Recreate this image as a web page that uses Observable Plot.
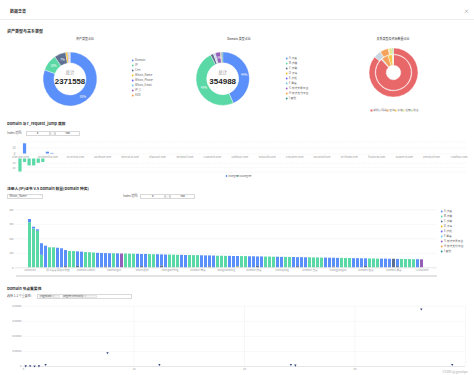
<!DOCTYPE html>
<html><head><meta charset="utf-8">
<script src="https://cdn.jsdelivr.net/npm/d3@7"></script>
<script src="https://cdn.jsdelivr.net/npm/@observablehq/plot@0.6"></script>
<style>
html,body{margin:0;padding:0;background:#fff;}
body{width:474px;height:375px;position:relative;overflow:hidden;font-family:"Noto Sans CJK SC","Noto Sans",sans-serif;color:#333;}
svg{overflow:visible;}
</style></head><body>
<script>
// ---------------- data ----------------
const assetTypes = ["Domain","IP","Cert","Whois_Name","Whois_Phone","Whois_Email","IP_C","ASN"];
const assetCounts = [1908650,236810,165120,28410,12830,10240,6120,3378];

const domainTypes = ["A 涉黄","B 涉赌","C 诈骗","D 涉毒","E 涉枪","F 黑客","G 非法交易平台","H 非法支付平台","I 其他"];
const domainCounts = [154420,173940,6390,1060,1420,1780,11360,1780,2838];
const palette = ["#5B8FF9","#5AD8A6","#5D7092","#F6BD16","#6F5EF9","#6DC8EC","#945FB9","#FF9845","#1E9493"];

const relGroups = ["解析","网段","证书","子域","注册","别名"];
const relInner = [1652310,18340,112560,74980,11240,7520];
const relOuter = [1614200,93870,103250,9410,37520,18740];
const relColors = ["#e8686a","#c9d5e0","#f5a35c","#f6c64f","#dfe38a","#b5dfa2"];

const jumpTickLabels = ["2f8e1a9c.com","5b7d0e3f4a.com","9c1e7b2d.com","a83f5c0e.com","d4e91b7a.com","6f0a2c8e.com","8e3b9d1f.com","c7a05e2b.com","1d9f6a3c.com","e2b8c4f0.com","47a1d9e3.com","b5c2e80f.com","0e7f3a9b.com","f91d2c6a.com","3c8a0e7d.com","a6e4b19f.com","72d0f5c8.com"];
const inDegree = [
0,17,0,0,0,0,3,1,0,0,0,0,0,0,
0,0,0,0,0,0,0,0,0,0,0,0,0,0,
0,0,0,0,0,0,0,0,0,0,0,0,0,0,
0,0,0,0,0,0,0,0,0,0,0,0,0,0,
0,0,0,0,0,0,0,0,0,0,0,0,0,0,
0,0,0,0,0,0,0,0,0,0,0,0,0,0,
0,0,0,0,0,0,0,0,0,0,0,0,0,0];
const outDegree = [
30,8,16,16,10,8,0,0,0,0,0,0,0,0,
0,0,0,0,0,0,0,0,0,0,0,0,0,0,
0,0,0,0,0,0,0,0,0,0,0,0,0,0,
0,0,0,0,0,0,0,0,0,0,0,0,0,0,
0,0,0,0,0,0,0,0,0,0,0,0,0,0,
0,0,0,0,0,0,0,0,0,0,0,0,0,0,
0,0,0,0,0,0,0,0,0,0,0,0,0,0];

const whoisTickLabels = ["Unknown","浙江某某网络工作室","Domain Admin","xiaohonglin","Whois 保护","zhangsanfeng","Domain 李某","wangxiaoming","Domain 陈某","liuzhiqiang","Domain 王某","huangjianguo","Domain 赵某","Domain 周某","Li Shuiwen"];
const whoisTotals = [
333,280,262,166,149,138,138,135,131,119,
112,112,110,108,105,104,102,100,99,98,
97,97,96,95,95,94,94,93,92,92,
91,90,90,89,88,88,87,86,86,85,
85,84,84,83,82,82,81,80,80,79,
79,78,78,77,77,76,76,75,75,74,
74,73,73,72,72,71,71,70,70,69,
69,68,68,67,67,66,66,65,65,64,
64,63,63,62,62,61,61,60,60,60,
59,59,58,58,57,57,56,56,55];
const whoisMain = ("BBBBABBAAA"+"BBAABBBAAA"+"ABAGBBBAAA"+"BBAAABBBAA"+"BBBAAAABBB"+
                   "AAABBAAAAB"+"BBAABBAAAA"+"BBBBAAAABB"+"BAAAABBBAA"+"ACABBBBAG");
const whoisExtra = [[0,"A",22],[1,"A",12],[2,"A",10],[3,"A",80],[9,"C",8],[12,"C",10],[19,"C",6],
  [28,"C",8],[33,"C",12],[45,"C",6],[52,"D",4],[57,"C",10],[67,"C",8],[76,"C",6],[84,"C",9],[92,"C",8]];
const stackOrder = ["B","C","D","G","A","E","F","H","I"];

const scatterX = [0.2,0.6,1.0,1.4,2.0,7.6,12.3,24.2,24.6,36.0,38.8];
const scatterY = [0.000003,0.000004,0.000002,0.000003,0.000012,0.00009,0.000012,0.000012,0.000008,0.00038,0.000012];

// ---------------- helpers ----------------
const FONT = '"Noto Sans CJK SC","Noto Sans",sans-serif';
const root = document.body;
function el(css, text){ const e=document.createElement("div"); Object.assign(e.style,{position:"absolute"},css); if(text!=null) e.textContent=text; root.appendChild(e); return e; }
function T(s,x,y,o={}){ const size=o.size||3.5;
  return el({left:x+"px",top:(y-size*0.6)+"px",fontSize:size+"px",lineHeight:"1.2",whiteSpace:"nowrap",
    color:o.color||"#333",fontWeight:o.weight||400,fontFamily:o.family||FONT,
    transform:o.anchor==="middle"?"translateX(-50%)":o.anchor==="end"?"translateX(-100%)":"none"},s); }
function R(x,y,w,h,o={}){ return el({left:x+"px",top:y+"px",width:w+"px",height:h+"px",border:o.border||"none",
  background:o.bg||"transparent",borderRadius:(o.radius||0)+"px",boxSizing:"border-box"}); }
function place(svg,x,y,w,h){ const d=el({left:x+"px",top:y+"px",width:w+"px",height:h+"px"}); d.appendChild(svg); return d; }
const baseStyle = {background:"transparent",fontFamily:FONT,fontSize:"3px",color:"#999",overflow:"visible"};

function donut(rings, domain, range, cx, cy, R1){
  const size = 2*R1+2, arcs=[], labs=[];
  rings.forEach(ring=>{
    const rows = ring.labels.map((l,i)=>({label:l,value:ring.values[i]}));
    const total = d3.sum(ring.values);
    d3.pie().sort(null).value(d=>d.value)(rows).forEach(p=>{
      arcs.push({label:p.data.label,a0:p.startAngle,a1:p.endAngle,r0:ring.r0/R1,r1:ring.r1/R1});
      const share=p.value/total;
      if(ring.pct && share>0.025){ const a=(p.startAngle+p.endAngle)/2, m=(ring.r0+ring.r1)/2/R1;
        labs.push({x:Math.sin(a)*m,y:Math.cos(a)*m,text:Math.round(share*100)+"%"}); }
    });
  });
  const svg = Plot.plot({
    width:size,height:size,margin:1,
    x:{domain:[-1,1],axis:null},y:{domain:[-1,1],axis:null},
    color:{domain,range},
    style:baseStyle,
    marks:[
      Plot.dot(arcs,{x:()=>0,y:()=>0,r:0,fill:"label"}),
      (index,scales)=>{
        const X=scales.x,Y=scales.y,k=X(1)-X(0);
        const col=scales.color||d3.scaleOrdinal(domain,range);
        const arc=d3.arc().innerRadius(d=>d.r0*k).outerRadius(d=>d.r1*k).startAngle(d=>d.a0).endAngle(d=>d.a1);
        const g=d3.create("svg:g").attr("transform",`translate(${X(0)},${Y(0)})`);
        g.selectAll("path").data(arcs).join("path").attr("d",arc)
          .attr("fill",d=>col(d.label)).attr("stroke","#fff").attr("stroke-width",0.4);
        return g.node();
      },
      Plot.text(labs,{x:"x",y:"y",text:"text",fill:"white",fontSize:3})
    ]
  });
  place(svg,cx-R1-1,cy-R1-1,size,size);
}
function vLegend(labels, colors, x, y0, step){
  const h=(labels.length-1)*step+4;
  const svg=Plot.plot({
    width:60,height:h,marginTop:2,marginBottom:2,marginLeft:1.2,marginRight:0,
    y:{type:"point",domain:labels,axis:null,padding:0},
    color:{domain:labels,range:colors},
    style:baseStyle,
    marks:[
      Plot.dot(labels,{y:d=>d,fill:d=>d,r:0.9,frameAnchor:"left"}),
      Plot.text(labels,{y:d=>d,text:d=>d,frameAnchor:"left",dx:2.4,textAnchor:"start",fill:"#666",fontSize:2.8})
    ]
  });
  place(svg,x-1.2,y0-2,60,h);
}

// ---------------- header ----------------
T("数据总览",10,11.7,{size:4,weight:600});
T("×",466.5,11.5,{size:5.5,color:"#999",anchor:"middle"});
R(0,18.5,474,0.5,{bg:"#eeeeee"});

// ---------------- section 1 ----------------
T("资产类型与关系类型",7,31.7,{size:4,weight:600});
T("资产类型占比",85,39.5,{size:3,anchor:"middle"});
T("Domain 类型占比",239,39.5,{size:3,anchor:"middle"});
T("关系类型及资源数量占比",393,39.5,{size:3,anchor:"middle"});

donut([{labels:assetTypes,values:assetCounts,r0:16,r1:27,pct:true}],assetTypes,palette,70,78.5,27);
T("总计",70,73,{size:4.5,color:"#888",anchor:"middle"});
T(String(d3.sum(assetCounts)),70,82,{size:7.8,weight:700,color:"#222",anchor:"middle",family:'"Liberation Sans",Arial,sans-serif'});
vLegend(assetTypes,palette,131.7,58.3,5.67);

donut([{labels:domainTypes,values:domainCounts,r0:16,r1:26.7,pct:true}],domainTypes,palette,222.7,78.3,26.7);
T("总计",222.7,73,{size:4.5,color:"#888",anchor:"middle"});
T(String(d3.sum(domainCounts)),222.7,82,{size:8,weight:700,color:"#222",anchor:"middle",family:'"Liberation Sans",Arial,sans-serif'});
vLegend(domainTypes,palette,286,55,5.75);

donut([{labels:relGroups,values:relInner,r0:7.3,r1:17.8},{labels:relGroups,values:relOuter,r0:18.3,r1:24.5}],relGroups,relColors,393.5,72,24.5);
{
  const svg=Plot.plot({width:70,height:6,margin:0,
    x:{type:"point",domain:relGroups,range:[2,52],axis:null},
    color:{domain:relGroups,range:relColors},style:baseStyle,
    marks:[Plot.dot(relGroups,{x:d=>d,fill:d=>d,symbol:"square",r:1.1}),
           Plot.text(relGroups,{x:d=>d,text:d=>d,dx:1.8,textAnchor:"start",fontSize:2.6,fill:"#666"})]});
  place(svg,364,107,70,6);
}

// ---------------- section 2 ----------------
T("Domain 与 r_request_jump 度数",7,124.5,{size:3.8,weight:600});
T("Index 范围:",7,133.5,{size:3,color:"#555"});
R(26,131,24,5,{border:"0.3px solid #d9d9d9",radius:0.5}); T("0",37.5,133.5,{size:2.8,anchor:"middle"});
R(50,131,5,5,{bg:"#f5f5f5",border:"0.3px solid #d9d9d9"}); 
R(55,131,25,5,{border:"0.3px solid #d9d9d9",radius:0.5}); T("700",67.5,133.5,{size:2.8,anchor:"middle"});

const jIdx = d3.range(inDegree.length);
place(Plot.plot({
  width:474,height:16,marginTop:3.5,marginBottom:0.5,marginLeft:17,marginRight:8,
  x:{type:"band",domain:jIdx,padding:0.3,axis:null},
  y:{domain:[0,20],ticks:[0,10],tickSize:0,tickPadding:2,label:null},
  style:baseStyle,
  marks:[
    Plot.ruleY([0,10,20],{stroke:"#e4e4e4",strokeWidth:0.4,strokeDasharray:"1,0.8"}),
    Plot.barY(jIdx,{x:d=>d,y:d=>inDegree[d],fill:"#5B8FF9"})
  ]}),0,138,474,16);
place(Plot.plot({
  width:474,height:17,marginTop:3.5,marginBottom:0.5,marginLeft:17,marginRight:8,
  x:{type:"band",domain:jIdx,padding:0.3,axis:"top",ticks:d3.range(0,jIdx.length,6),
     tickFormat:i=>i%6===0?(jumpTickLabels[i/6]||""):"",tickSize:0,tickPadding:0.6,label:null},
  y:{domain:[0,30],reverse:true,ticks:[10,20],tickSize:0,tickPadding:2,label:null},
  style:{...baseStyle,fontSize:"2.6px"},
  marks:[
    Plot.ruleY([10,20,30],{stroke:"#e4e4e4",strokeWidth:0.4,strokeDasharray:"1,0.8"}),
    Plot.barY(jIdx,{x:d=>d,y:d=>outDegree[d],fill:"#5AD8A6"})
  ]}),0,154.5,474,17);
{
  const lg=["inDegree","outDegree"];
  const svg=Plot.plot({width:60,height:5,margin:0,
    x:{type:"point",domain:lg,range:[1.5,25],axis:null},
    color:{domain:lg,range:["#5B8FF9","#5AD8A6"]},style:baseStyle,
    marks:[Plot.dot(lg,{x:d=>d,fill:d=>d,r:0.9}),
           Plot.text(lg,{x:d=>d,text:d=>d,dx:1.8,textAnchor:"start",fontSize:2.5,fill:"#666"})]});
  place(svg,218,173.2,60,5);
}

// ---------------- section 3 ----------------
T("注册人(IP)证书 V.S Domain 数量(Domain 种类)",7,189.3,{size:3.8,weight:600});
R(7,194,36,5,{border:"0.3px solid #d9d9d9",radius:0.5}); T("Whois_Name",9.5,196.5,{size:2.8,color:"#555"});
T("⌄",40.5,195.8,{size:3,color:"#aaa",anchor:"middle"});
T("Index 范围:",123,196.7,{size:3,color:"#555"});
R(140,194.3,25,5,{border:"0.3px solid #d9d9d9",radius:0.5}); T("0",152.7,196.8,{size:2.8,anchor:"middle"});
R(165,194.3,5,5,{bg:"#f5f5f5",border:"0.3px solid #d9d9d9"});
R(170,194.3,25,5,{border:"0.3px solid #d9d9d9",radius:0.5}); T("700",182.5,196.8,{size:2.8,anchor:"middle"});

const letters = "ABCDEFGHI";
const whoisRows = [];
whoisTotals.forEach((tot,i)=>{
  const ex = whoisExtra.filter(e=>e[0]===i);
  const main = tot - d3.sum(ex,e=>e[2]);
  whoisRows.push({i,type:domainTypes[letters.indexOf(whoisMain[i])],value:main});
  ex.forEach(e=>whoisRows.push({i,type:domainTypes[letters.indexOf(e[1])],value:e[2]}));
});
const wIdx = d3.range(whoisTotals.length);
place(Plot.plot({
  width:474,height:72,marginTop:4.3,marginBottom:9.7,marginLeft:15,marginRight:37.5,
  x:{type:"band",domain:wIdx,padding:0.35,ticks:d3.range(0,wIdx.length,7),
     tickFormat:i=>i%7===0?(whoisTickLabels[i/7]||""):"",tickSize:0,tickPadding:1.5,label:null},
  y:{domain:[0,400],ticks:[0,100,200,300,400],tickSize:0,tickPadding:2,label:null},
  color:{domain:domainTypes,range:palette},
  style:{...baseStyle,fontSize:"2.6px"},
  marks:[
    Plot.ruleY([100,200,300,400],{stroke:"#eeeeee",strokeWidth:0.5}),
    Plot.barY(whoisRows,{x:"i",y:"value",fill:"type",order:stackOrder.map(l=>domainTypes[letters.indexOf(l)])}),
    Plot.ruleY([0],{stroke:"#cccccc",strokeWidth:0.5})
  ]}),0,205,474,72);
R(16,275.2,421,1.6,{bg:"#e3e3e3",radius:0.8});
vLegend(domainTypes,palette,440.7,208.3,5.7);

// ---------------- section 4 ----------------
T("Domain 节点重要性",7,289.3,{size:3.8,weight:600});
T("选择 1-2 个重要性:",7,296.4,{size:3,color:"#555"});
R(36.7,294,95,5,{border:"0.3px solid #d9d9d9",radius:0.5});
R(39,294.8,21,3.4,{bg:"#f5f5f5",border:"0.3px solid #e6e6e6",radius:0.4}); T("PageRank ×",40.2,296.5,{size:2.5,color:"#555"});
R(62,294.8,35,3.4,{bg:"#f5f5f5",border:"0.3px solid #e6e6e6",radius:0.4}); T("Degree Centrality ×",63.2,296.5,{size:2.5,color:"#555"});

const scatterRows = scatterX.map((x,i)=>({x,y:scatterY[i]}));
place(Plot.plot({
  width:474,height:72.5,marginTop:5.7,marginBottom:6.5,marginLeft:23,marginRight:9,
  x:{domain:[0,40],ticks:[0,10,20,30],tickSize:0,tickPadding:2,label:null},
  y:{domain:[0,0.0004],ticks:[0,0.0001,0.0002,0.0003,0.0004],tickFormat:d=>d===0?"0":d3.format(".5f")(d),tickSize:0,tickPadding:2,label:null},
  style:{...baseStyle,fontSize:"2.6px"},
  marks:[
    Plot.ruleY([0.0001,0.0002,0.0003,0.0004],{stroke:"#eeeeee",strokeWidth:0.5}),
    Plot.ruleX([10,20,30,40],{stroke:"#eeeeee",strokeWidth:0.5}),
    Plot.ruleY([0],{stroke:"#cccccc",strokeWidth:0.5}),
    Plot.dot(scatterRows,{x:"x",y:"y",r:0.9,fill:"#34467a",symbol:"triangle",rotate:180})
  ]}),0,300,474,72.5);
T("CSDN @gnuhpc",468,372,{size:3.5,color:"#aaa",anchor:"end"});
</script></body></html>
